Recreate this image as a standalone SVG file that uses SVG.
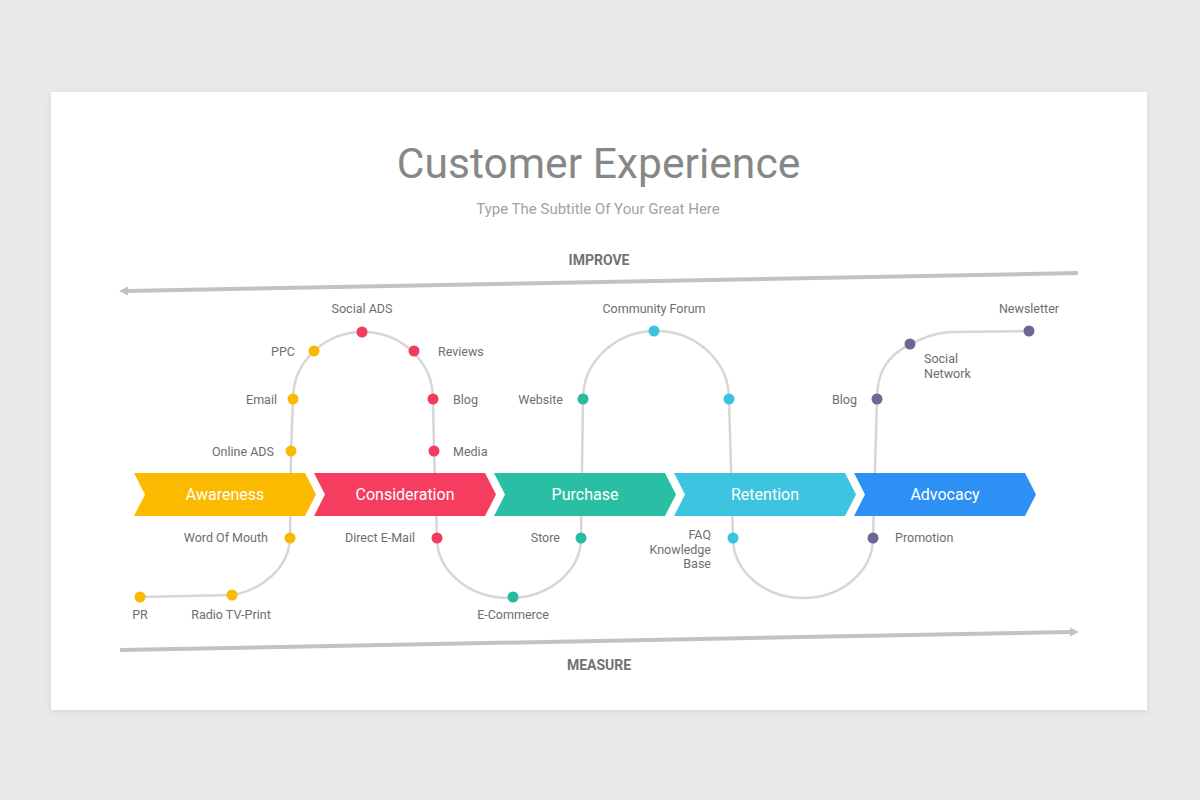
<svg xmlns="http://www.w3.org/2000/svg" width="1200" height="800" viewBox="0 0 1200 800">
<defs>
<style>
.lbl{font-family:Roboto,"Liberation Sans",sans-serif;font-size:12.5px;fill:#6e6e6e}
.st{font-family:Roboto,"Liberation Sans",sans-serif;font-size:16px;fill:#ffffff;text-anchor:middle}
.axis{font-family:Roboto,"Liberation Sans",sans-serif;font-size:14px;font-weight:bold;fill:#737373;text-anchor:middle}
.arr{stroke:#c2c2c2;stroke-width:4;fill:none}
.y{fill:#f9b900}.r{fill:#f03c5e}.t{fill:#27bba1}.c{fill:#3cc3e0}.p{fill:#706597}
</style>
<filter id="sh" x="-5%" y="-5%" width="110%" height="115%">
<feDropShadow dx="0" dy="2" stdDeviation="3" flood-color="#000" flood-opacity="0.08"/>
</filter>
</defs>
<rect width="1200" height="800" fill="#e9e8ea"/>
<rect x="51" y="92" width="1096" height="618" fill="#ffffff" filter="url(#sh)"/>
<g id="title">
<text x="598.5" y="178" text-anchor="middle" font-family="Roboto,'Liberation Sans',sans-serif" font-size="42.6" fill="#878787">Customer Experience</text>
<text x="598" y="214" text-anchor="middle" font-family="Roboto,'Liberation Sans',sans-serif" font-size="15" fill="#a2a2a2">Type The Subtitle Of Your Great Here</text>
</g>
<g id="improve">
<line class="arr" x1="1078" y1="273" x2="127" y2="291"/>
<polygon points="119,291 128,286.5 128,295.5" fill="#c2c2c2"/>
<text class="axis" x="599" y="265">IMPROVE</text>
</g>
<g id="measure">
<line class="arr" x1="120" y1="650" x2="1071" y2="632"/>
<polygon points="1079,632 1070,627.5 1070,636.5" fill="#c2c2c2"/>
<text class="axis" x="599" y="670">MEASURE</text>
</g>
<g id="connectors">
<path d="M140,597 L232,595 C262,590 289,568 290,538 L291,451 L293,399 A70,67 0 0 1 433,399 L434,451 L437,538 A72,60 0 0 0 581,538 L583,399 A73,68 0 0 1 729,399 L733,538 A70,60 0 0 0 873,538 L877,399 C877,375 885,356 911,344 C925,337 935,333 950,332 L1029,331" fill="none" stroke="#d7d7d7" stroke-width="2.5"/>
</g>
<g id="awareness">
<polygon points="134,473 305,473 316,494.5 305,516 134,516 145,494.5" fill="#fbba00"/>
<text class="st" x="225" y="500">Awareness</text>
</g>
<g id="consideration">
<polygon points="314,473 485,473 496,494.5 485,516 314,516 325,494.5" fill="#f43d5f"/>
<text class="st" x="405" y="500">Consideration</text>
</g>
<g id="purchase">
<polygon points="494,473 665,473 676,494.5 665,516 494,516 505,494.5" fill="#2abfa5"/>
<text class="st" x="585" y="500">Purchase</text>
</g>
<g id="retention">
<polygon points="674,473 845,473 856,494.5 845,516 674,516 685,494.5" fill="#3dc4e0"/>
<text class="st" x="765" y="500">Retention</text>
</g>
<g id="advocacy">
<polygon points="854,473 1025,473 1036,494.5 1025,516 854,516 865,494.5" fill="#2d90f5"/>
<text class="st" x="945" y="500">Advocacy</text>
</g>
<g id="pr"><circle class="y" cx="140" cy="597" r="5.5"/><text class="lbl" x="140" y="619" text-anchor="middle">PR</text></g>
<g id="radio"><circle class="y" cx="232" cy="595" r="5.5"/><text class="lbl" x="231" y="619" text-anchor="middle">Radio TV-Print</text></g>
<g id="wom"><circle class="y" cx="290" cy="538" r="5.5"/><text class="lbl" x="268" y="542" text-anchor="end">Word Of Mouth</text></g>
<g id="onlineads"><circle class="y" cx="291" cy="451" r="5.5"/><text class="lbl" x="274" y="455.5" text-anchor="end">Online ADS</text></g>
<g id="email"><circle class="y" cx="293" cy="399" r="5.5"/><text class="lbl" x="277" y="403.5" text-anchor="end">Email</text></g>
<g id="ppc"><circle class="y" cx="314" cy="351" r="5.5"/><text class="lbl" x="295" y="355.5" text-anchor="end">PPC</text></g>
<g id="socialads"><circle class="r" cx="362" cy="332" r="5.5"/><text class="lbl" x="362" y="312.5" text-anchor="middle">Social ADS</text></g>
<g id="reviews"><circle class="r" cx="414" cy="351" r="5.5"/><text class="lbl" x="438" y="355.5">Reviews</text></g>
<g id="blog1"><circle class="r" cx="433" cy="399" r="5.5"/><text class="lbl" x="453" y="403.5">Blog</text></g>
<g id="media"><circle class="r" cx="434" cy="451" r="5.5"/><text class="lbl" x="453" y="455.5">Media</text></g>
<g id="directemail"><circle class="r" cx="437" cy="538" r="5.5"/><text class="lbl" x="415" y="542" text-anchor="end">Direct E-Mail</text></g>
<g id="ecommerce"><circle class="t" cx="513" cy="597" r="5.5"/><text class="lbl" x="513" y="619" text-anchor="middle">E-Commerce</text></g>
<g id="store"><circle class="t" cx="581" cy="538" r="5.5"/><text class="lbl" x="560" y="542" text-anchor="end">Store</text></g>
<g id="website"><circle class="t" cx="583" cy="399" r="5.5"/><text class="lbl" x="563" y="403.5" text-anchor="end">Website</text></g>
<g id="forum"><circle class="c" cx="654" cy="331" r="5.5"/><text class="lbl" x="654" y="312.5" text-anchor="middle">Community Forum</text></g>
<g id="retdot"><circle class="c" cx="729" cy="399" r="5.5"/></g>
<g id="faq"><circle class="c" cx="733" cy="538" r="5.5"/><text class="lbl" text-anchor="end"><tspan x="711" y="539">FAQ</tspan><tspan x="711" y="554">Knowledge</tspan><tspan x="711" y="568">Base</tspan></text></g>
<g id="promotion"><circle class="p" cx="873" cy="538" r="5.5"/><text class="lbl" x="895" y="542">Promotion</text></g>
<g id="blog2"><circle class="p" cx="877" cy="399" r="5.5"/><text class="lbl" x="857" y="403.5" text-anchor="end">Blog</text></g>
<g id="socialnetwork"><circle class="p" cx="910" cy="344" r="5.5"/><text class="lbl"><tspan x="924" y="363">Social</tspan><tspan x="924" y="378">Network</tspan></text></g>
<g id="newsletter"><circle class="p" cx="1029" cy="331" r="5.5"/><text class="lbl" x="1029" y="312.5" text-anchor="middle">Newsletter</text></g>
</svg>
